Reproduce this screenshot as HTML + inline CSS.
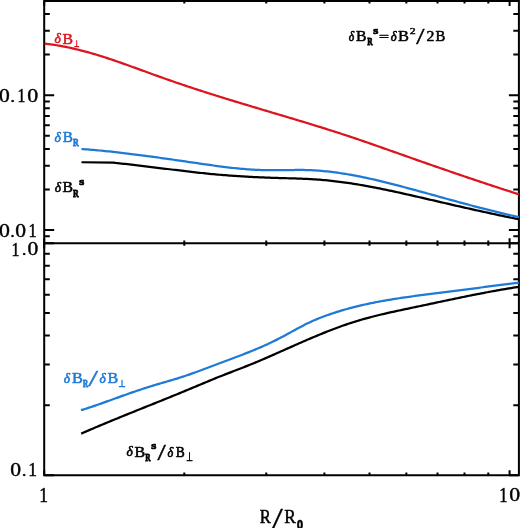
<!DOCTYPE html>
<html><head><meta charset="utf-8"><style>
html,body{margin:0;padding:0;background:#fff;}
body{width:520px;height:528px;overflow:hidden;}
svg{display:block;}
</style></head><body>
<svg width="520" height="528" viewBox="0 0 520 528">
<rect width="520" height="528" fill="#fff"/>
<path d="M44.2,0.9H518.9V475.2H44.2Z M44.2,243.2H518.9" fill="none" stroke="#000" stroke-width="2.0"/>
<path d="M44.2,243.20h5.6M518.9,243.20h-5.6M44.2,236.30h5.6M518.9,236.30h-5.6M44.2,230.12h10M518.9,230.12h-10M44.2,189.51h5.6M518.9,189.51h-5.6M44.2,165.75h5.6M518.9,165.75h-5.6M44.2,148.90h5.6M518.9,148.90h-5.6M44.2,135.82h5.6M518.9,135.82h-5.6M44.2,125.14h5.6M518.9,125.14h-5.6M44.2,116.10h5.6M518.9,116.10h-5.6M44.2,108.28h5.6M518.9,108.28h-5.6M44.2,101.38h5.6M518.9,101.38h-5.6M44.2,95.20h10M518.9,95.20h-10M44.2,54.59h5.6M518.9,54.59h-5.6M44.2,30.83h5.6M518.9,30.83h-5.6M44.2,13.98h5.6M518.9,13.98h-5.6M44.2,0.90h5.6M518.9,0.90h-5.6M44.2,475.20h10M518.9,475.20h-10M44.2,405.36h5.6M518.9,405.36h-5.6M44.2,364.51h5.6M518.9,364.51h-5.6M44.2,335.52h5.6M518.9,335.52h-5.6M44.2,313.04h5.6M518.9,313.04h-5.6M44.2,294.67h5.6M518.9,294.67h-5.6M44.2,279.14h5.6M518.9,279.14h-5.6M44.2,265.68h5.6M518.9,265.68h-5.6M44.2,253.82h5.6M518.9,253.82h-5.6M44.2,243.20h10M518.9,243.20h-10M44.20,0.9v5M44.20,243.2v-5M44.20,243.2v5M44.20,475.2v-5M184.30,0.9v2.6M184.30,243.2v-2.6M184.30,243.2v2.6M184.30,475.2v-2.6M266.25,0.9v2.6M266.25,243.2v-2.6M266.25,243.2v2.6M266.25,475.2v-2.6M324.40,0.9v2.6M324.40,243.2v-2.6M324.40,243.2v2.6M324.40,475.2v-2.6M369.50,0.9v2.6M369.50,243.2v-2.6M369.50,243.2v2.6M369.50,475.2v-2.6M406.35,0.9v2.6M406.35,243.2v-2.6M406.35,243.2v2.6M406.35,475.2v-2.6M437.51,0.9v2.6M437.51,243.2v-2.6M437.51,243.2v2.6M437.51,475.2v-2.6M464.50,0.9v2.6M464.50,243.2v-2.6M464.50,243.2v2.6M464.50,475.2v-2.6M488.30,0.9v2.6M488.30,243.2v-2.6M488.30,243.2v2.6M488.30,475.2v-2.6M509.60,0.9v5M509.60,243.2v-5M509.60,243.2v5M509.60,475.2v-5" fill="none" stroke="#000" stroke-width="2.0"/>
<polyline points="44.6,43.68 46.6,43.89 48.6,44.12 50.6,44.37 52.6,44.64 54.6,44.93 56.6,45.24 58.6,45.57 60.6,45.92 62.6,46.28 64.6,46.66 66.6,47.06 68.6,47.48 70.6,47.91 72.6,48.35 74.6,48.82 76.6,49.29 78.6,49.78 80.6,50.29 82.6,50.81 84.6,51.34 86.6,51.88 88.6,52.44 90.6,53.01 92.6,53.59 94.6,54.18 96.6,54.78 98.6,55.40 100.6,56.02 102.6,56.65 104.6,57.29 106.6,57.94 108.6,58.59 110.6,59.26 112.6,59.93 114.6,60.61 116.6,61.29 118.6,61.98 120.6,62.68 122.6,63.38 124.6,64.08 126.6,64.79 128.6,65.51 130.6,66.22 132.6,66.94 134.6,67.67 136.6,68.39 138.6,69.12 140.6,69.84 142.6,70.57 144.6,71.30 146.6,72.03 148.6,72.76 150.6,73.49 152.6,74.21 154.6,74.94 156.6,75.66 158.6,76.38 160.6,77.09 162.6,77.81 164.6,78.52 166.6,79.22 168.6,79.92 170.6,80.62 172.6,81.31 174.6,82.00 176.6,82.69 178.6,83.37 180.6,84.05 182.6,84.73 184.6,85.40 186.6,86.07 188.6,86.73 190.6,87.39 192.6,88.05 194.6,88.71 196.6,89.36 198.6,90.01 200.6,90.66 202.6,91.30 204.6,91.95 206.6,92.58 208.6,93.22 210.6,93.86 212.6,94.49 214.6,95.12 216.6,95.74 218.6,96.37 220.6,96.99 222.6,97.61 224.6,98.23 226.6,98.85 228.6,99.46 230.6,100.08 232.6,100.69 234.6,101.30 236.6,101.91 238.6,102.52 240.6,103.12 242.6,103.73 244.6,104.33 246.6,104.94 248.6,105.54 250.6,106.14 252.6,106.74 254.6,107.34 256.6,107.94 258.6,108.53 260.6,109.13 262.6,109.73 264.6,110.32 266.6,110.92 268.6,111.52 270.6,112.11 272.6,112.71 274.6,113.30 276.6,113.90 278.6,114.49 280.6,115.09 282.6,115.68 284.6,116.28 286.6,116.88 288.6,117.47 290.6,118.07 292.6,118.67 294.6,119.27 296.6,119.87 298.6,120.47 300.6,121.07 302.6,121.68 304.6,122.28 306.6,122.89 308.6,123.50 310.6,124.11 312.6,124.72 314.6,125.33 316.6,125.95 318.6,126.57 320.6,127.19 322.6,127.81 324.6,128.44 326.6,129.07 328.6,129.70 330.6,130.33 332.6,130.97 334.6,131.61 336.6,132.25 338.6,132.90 340.6,133.55 342.6,134.20 344.6,134.86 346.6,135.52 348.6,136.18 350.6,136.85 352.6,137.52 354.6,138.19 356.6,138.87 358.6,139.55 360.6,140.23 362.6,140.92 364.6,141.60 366.6,142.29 368.6,142.98 370.6,143.68 372.6,144.37 374.6,145.07 376.6,145.77 378.6,146.47 380.6,147.17 382.6,147.87 384.6,148.58 386.6,149.28 388.6,149.99 390.6,150.69 392.6,151.40 394.6,152.11 396.6,152.81 398.6,153.52 400.6,154.23 402.6,154.93 404.6,155.64 406.6,156.35 408.6,157.05 410.6,157.76 412.6,158.46 414.6,159.16 416.6,159.87 418.6,160.57 420.6,161.27 422.6,161.97 424.6,162.67 426.6,163.37 428.6,164.07 430.6,164.77 432.6,165.46 434.6,166.16 436.6,166.85 438.6,167.55 440.6,168.24 442.6,168.93 444.6,169.62 446.6,170.31 448.6,171.00 450.6,171.69 452.6,172.38 454.6,173.06 456.6,173.75 458.6,174.43 460.6,175.11 462.6,175.79 464.6,176.47 466.6,177.15 468.6,177.83 470.6,178.50 472.6,179.18 474.6,179.85 476.6,180.52 478.6,181.19 480.6,181.86 482.6,182.53 484.6,183.19 486.6,183.86 488.6,184.52 490.6,185.18 492.6,185.84 494.6,186.49 496.6,187.15 498.6,187.80 500.6,188.45 502.6,189.10 504.6,189.75 506.6,190.40 508.6,191.04 510.6,191.68 512.6,192.32 514.6,192.96 516.6,193.60 518.6,194.23 518.9,194.33" fill="none" stroke="#dc1420" stroke-width="2.25" stroke-linejoin="round"/>
<polyline points="81.5,162.25 113.5,162.60 115.5,162.94 117.5,163.14 119.5,163.34 121.5,163.55 123.5,163.76 125.5,163.97 127.5,164.19 129.5,164.41 131.5,164.64 133.5,164.87 135.5,165.10 137.5,165.33 139.5,165.57 141.5,165.80 143.5,166.04 145.5,166.29 147.5,166.53 149.5,166.77 151.5,167.02 153.5,167.26 155.5,167.51 157.5,167.76 159.5,168.01 161.5,168.26 163.5,168.51 165.5,168.76 167.5,169.00 169.5,169.25 171.5,169.50 173.5,169.75 175.5,169.99 177.5,170.24 179.5,170.48 181.5,170.72 183.5,170.96 185.5,171.20 187.5,171.43 189.5,171.67 191.5,171.90 193.5,172.12 195.5,172.35 197.5,172.57 199.5,172.79 201.5,173.00 203.5,173.21 205.5,173.42 207.5,173.62 209.5,173.82 211.5,174.02 213.5,174.21 215.5,174.39 217.5,174.57 219.5,174.75 221.5,174.92 223.5,175.08 225.5,175.24 227.5,175.40 229.5,175.55 231.5,175.70 233.5,175.84 235.5,175.98 237.5,176.11 239.5,176.24 241.5,176.36 243.5,176.48 245.5,176.60 247.5,176.71 249.5,176.82 251.5,176.93 253.5,177.03 255.5,177.13 257.5,177.22 259.5,177.31 261.5,177.40 263.5,177.48 265.5,177.56 267.5,177.64 269.5,177.71 271.5,177.78 273.5,177.84 275.5,177.91 277.5,177.97 279.5,178.03 281.5,178.08 283.5,178.14 285.5,178.19 287.5,178.25 289.5,178.30 291.5,178.36 293.5,178.42 295.5,178.48 297.5,178.55 299.5,178.62 301.5,178.70 303.5,178.78 305.5,178.86 307.5,178.96 309.5,179.06 311.5,179.17 313.5,179.28 315.5,179.41 317.5,179.55 319.5,179.69 321.5,179.85 323.5,180.02 325.5,180.20 327.5,180.40 329.5,180.60 331.5,180.81 333.5,181.03 335.5,181.26 337.5,181.51 339.5,181.76 341.5,182.02 343.5,182.29 345.5,182.57 347.5,182.86 349.5,183.15 351.5,183.46 353.5,183.77 355.5,184.09 357.5,184.42 359.5,184.76 361.5,185.10 363.5,185.45 365.5,185.81 367.5,186.17 369.5,186.54 371.5,186.91 373.5,187.30 375.5,187.68 377.5,188.08 379.5,188.47 381.5,188.88 383.5,189.29 385.5,189.70 387.5,190.12 389.5,190.54 391.5,190.96 393.5,191.39 395.5,191.83 397.5,192.26 399.5,192.70 401.5,193.14 403.5,193.59 405.5,194.04 407.5,194.49 409.5,194.94 411.5,195.39 413.5,195.85 415.5,196.31 417.5,196.77 419.5,197.23 421.5,197.69 423.5,198.15 425.5,198.61 427.5,199.07 429.5,199.54 431.5,200.00 433.5,200.46 435.5,200.92 437.5,201.39 439.5,201.85 441.5,202.31 443.5,202.77 445.5,203.23 447.5,203.69 449.5,204.15 451.5,204.61 453.5,205.07 455.5,205.53 457.5,205.99 459.5,206.45 461.5,206.90 463.5,207.36 465.5,207.81 467.5,208.26 469.5,208.71 471.5,209.16 473.5,209.61 475.5,210.06 477.5,210.50 479.5,210.95 481.5,211.39 483.5,211.83 485.5,212.27 487.5,212.70 489.5,213.14 491.5,213.57 493.5,214.00 495.5,214.43 497.5,214.86 499.5,215.28 501.5,215.70 503.5,216.12 505.5,216.54 507.5,216.95 509.5,217.36 511.5,217.77 513.5,218.17 515.5,218.58 517.5,218.97 518.9,219.25" fill="none" stroke="#000" stroke-width="2.25" stroke-linejoin="round"/>
<polyline points="81.5,149.02 83.5,149.16 85.5,149.31 87.5,149.47 89.5,149.63 91.5,149.79 93.5,149.96 95.5,150.14 97.5,150.32 99.5,150.50 101.5,150.69 103.5,150.88 105.5,151.08 107.5,151.29 109.5,151.49 111.5,151.70 113.5,151.92 115.5,152.14 117.5,152.36 119.5,152.59 121.5,152.82 123.5,153.05 125.5,153.29 127.5,153.53 129.5,153.78 131.5,154.02 133.5,154.27 135.5,154.53 137.5,154.78 139.5,155.04 141.5,155.30 143.5,155.57 145.5,155.83 147.5,156.10 149.5,156.37 151.5,156.64 153.5,156.92 155.5,157.19 157.5,157.47 159.5,157.75 161.5,158.03 163.5,158.31 165.5,158.60 167.5,158.88 169.5,159.17 171.5,159.46 173.5,159.74 175.5,160.03 177.5,160.32 179.5,160.61 181.5,160.90 183.5,161.19 185.5,161.48 187.5,161.77 189.5,162.07 191.5,162.36 193.5,162.65 195.5,162.94 197.5,163.23 199.5,163.52 201.5,163.81 203.5,164.09 205.5,164.38 207.5,164.67 209.5,164.95 211.5,165.23 213.5,165.51 215.5,165.78 217.5,166.05 219.5,166.31 221.5,166.57 223.5,166.83 225.5,167.07 227.5,167.32 229.5,167.55 231.5,167.78 233.5,168.00 235.5,168.21 237.5,168.42 239.5,168.61 241.5,168.80 243.5,168.98 245.5,169.14 247.5,169.30 249.5,169.44 251.5,169.58 253.5,169.70 255.5,169.81 257.5,169.90 259.5,169.98 261.5,170.05 263.5,170.11 265.5,170.15 267.5,170.18 269.5,170.21 271.5,170.22 273.5,170.22 275.5,170.22 277.5,170.21 279.5,170.20 281.5,170.18 283.5,170.15 285.5,170.13 287.5,170.10 289.5,170.07 291.5,170.04 293.5,170.01 295.5,169.99 297.5,169.98 299.5,169.97 301.5,169.98 303.5,169.99 305.5,170.03 307.5,170.08 309.5,170.14 311.5,170.23 313.5,170.33 315.5,170.45 317.5,170.58 319.5,170.73 321.5,170.89 323.5,171.07 325.5,171.26 327.5,171.46 329.5,171.68 331.5,171.92 333.5,172.17 335.5,172.43 337.5,172.70 339.5,172.99 341.5,173.28 343.5,173.59 345.5,173.91 347.5,174.25 349.5,174.59 351.5,174.95 353.5,175.31 355.5,175.69 357.5,176.07 359.5,176.47 361.5,176.87 363.5,177.28 365.5,177.70 367.5,178.13 369.5,178.57 371.5,179.02 373.5,179.47 375.5,179.93 377.5,180.40 379.5,180.87 381.5,181.35 383.5,181.84 385.5,182.33 387.5,182.83 389.5,183.33 391.5,183.84 393.5,184.35 395.5,184.87 397.5,185.39 399.5,185.91 401.5,186.44 403.5,186.97 405.5,187.51 407.5,188.04 409.5,188.58 411.5,189.12 413.5,189.66 415.5,190.20 417.5,190.75 419.5,191.30 421.5,191.84 423.5,192.39 425.5,192.94 427.5,193.49 429.5,194.04 431.5,194.59 433.5,195.15 435.5,195.70 437.5,196.25 439.5,196.80 441.5,197.35 443.5,197.91 445.5,198.46 447.5,199.01 449.5,199.56 451.5,200.11 453.5,200.66 455.5,201.20 457.5,201.75 459.5,202.29 461.5,202.84 463.5,203.38 465.5,203.92 467.5,204.45 469.5,204.99 471.5,205.52 473.5,206.05 475.5,206.58 477.5,207.11 479.5,207.63 481.5,208.15 483.5,208.67 485.5,209.18 487.5,209.69 489.5,210.20 491.5,210.70 493.5,211.20 495.5,211.70 497.5,212.19 499.5,212.68 501.5,213.17 503.5,213.64 505.5,214.12 507.5,214.59 509.5,215.06 511.5,215.52 513.5,215.97 515.5,216.42 517.5,216.87 518.9,217.17" fill="none" stroke="#1f7ad6" stroke-width="2.25" stroke-linejoin="round"/>
<polyline points="81.2,433.63 83.2,432.76 85.2,431.88 87.2,431.02 89.2,430.15 91.2,429.29 93.2,428.44 95.2,427.58 97.2,426.73 99.2,425.89 101.2,425.05 103.2,424.21 105.2,423.37 107.2,422.54 109.2,421.71 111.2,420.89 113.2,420.06 115.2,419.24 117.2,418.42 119.2,417.60 121.2,416.79 123.2,415.97 125.2,415.16 127.2,414.35 129.2,413.54 131.2,412.73 133.2,411.93 135.2,411.12 137.2,410.32 139.2,409.51 141.2,408.71 143.2,407.91 145.2,407.10 147.2,406.30 149.2,405.50 151.2,404.69 153.2,403.89 155.2,403.09 157.2,402.28 159.2,401.48 161.2,400.67 163.2,399.87 165.2,399.06 167.2,398.25 169.2,397.44 171.2,396.63 173.2,395.81 175.2,395.00 177.2,394.18 179.2,393.36 181.2,392.54 183.2,391.71 185.2,390.89 187.2,390.06 189.2,389.22 191.2,388.39 193.2,387.55 195.2,386.71 197.2,385.87 199.2,385.03 201.2,384.19 203.2,383.35 205.2,382.51 207.2,381.68 209.2,380.85 211.2,380.02 213.2,379.20 215.2,378.38 217.2,377.57 219.2,376.77 221.2,375.97 223.2,375.18 225.2,374.40 227.2,373.62 229.2,372.85 231.2,372.08 233.2,371.31 235.2,370.54 237.2,369.77 239.2,369.00 241.2,368.22 243.2,367.44 245.2,366.66 247.2,365.87 249.2,365.07 251.2,364.26 253.2,363.44 255.2,362.61 257.2,361.78 259.2,360.93 261.2,360.08 263.2,359.22 265.2,358.36 267.2,357.49 269.2,356.62 271.2,355.74 273.2,354.86 275.2,353.98 277.2,353.09 279.2,352.20 281.2,351.31 283.2,350.42 285.2,349.52 287.2,348.63 289.2,347.74 291.2,346.85 293.2,345.96 295.2,345.07 297.2,344.19 299.2,343.31 301.2,342.43 303.2,341.56 305.2,340.69 307.2,339.83 309.2,338.97 311.2,338.12 313.2,337.27 315.2,336.43 317.2,335.59 319.2,334.77 321.2,333.95 323.2,333.14 325.2,332.34 327.2,331.54 329.2,330.76 331.2,329.98 333.2,329.22 335.2,328.46 337.2,327.72 339.2,326.98 341.2,326.26 343.2,325.55 345.2,324.86 347.2,324.17 349.2,323.50 351.2,322.84 353.2,322.20 355.2,321.57 357.2,320.95 359.2,320.35 361.2,319.77 363.2,319.19 365.2,318.63 367.2,318.08 369.2,317.54 371.2,317.01 373.2,316.50 375.2,315.99 377.2,315.49 379.2,315.00 381.2,314.52 383.2,314.05 385.2,313.58 387.2,313.12 389.2,312.67 391.2,312.22 393.2,311.78 395.2,311.34 397.2,310.91 399.2,310.48 401.2,310.05 403.2,309.63 405.2,309.20 407.2,308.78 409.2,308.36 411.2,307.94 413.2,307.52 415.2,307.10 417.2,306.68 419.2,306.26 421.2,305.84 423.2,305.41 425.2,304.99 427.2,304.56 429.2,304.14 431.2,303.71 433.2,303.29 435.2,302.86 437.2,302.44 439.2,302.01 441.2,301.59 443.2,301.16 445.2,300.74 447.2,300.32 449.2,299.90 451.2,299.48 453.2,299.06 455.2,298.64 457.2,298.23 459.2,297.81 461.2,297.40 463.2,296.99 465.2,296.58 467.2,296.17 469.2,295.77 471.2,295.37 473.2,294.97 475.2,294.57 477.2,294.18 479.2,293.79 481.2,293.40 483.2,293.02 485.2,292.63 487.2,292.26 489.2,291.88 491.2,291.51 493.2,291.15 495.2,290.78 497.2,290.42 499.2,290.07 501.2,289.72 503.2,289.37 505.2,289.03 507.2,288.70 509.2,288.37 511.2,288.04 513.2,287.72 515.2,287.40 517.2,287.09 518.9,286.83" fill="none" stroke="#000" stroke-width="2.25" stroke-linejoin="round"/>
<polyline points="81.0,410.19 83.0,409.58 85.0,408.96 87.0,408.32 89.0,407.67 91.0,407.01 93.0,406.34 95.0,405.66 97.0,404.97 99.0,404.27 101.0,403.57 103.0,402.86 105.0,402.15 107.0,401.43 109.0,400.71 111.0,399.99 113.0,399.27 115.0,398.55 117.0,397.82 119.0,397.10 121.0,396.38 123.0,395.66 125.0,394.95 127.0,394.24 129.0,393.54 131.0,392.84 133.0,392.15 135.0,391.47 137.0,390.79 139.0,390.12 141.0,389.46 143.0,388.80 145.0,388.15 147.0,387.51 149.0,386.87 151.0,386.25 153.0,385.63 155.0,385.02 157.0,384.42 159.0,383.83 161.0,383.24 163.0,382.67 165.0,382.09 167.0,381.52 169.0,380.95 171.0,380.37 173.0,379.78 175.0,379.18 177.0,378.56 179.0,377.93 181.0,377.29 183.0,376.63 185.0,375.96 187.0,375.28 189.0,374.59 191.0,373.89 193.0,373.18 195.0,372.46 197.0,371.73 199.0,371.00 201.0,370.26 203.0,369.52 205.0,368.77 207.0,368.02 209.0,367.27 211.0,366.51 213.0,365.76 215.0,365.00 217.0,364.24 219.0,363.49 221.0,362.74 223.0,361.99 225.0,361.24 227.0,360.50 229.0,359.75 231.0,359.00 233.0,358.25 235.0,357.50 237.0,356.74 239.0,355.98 241.0,355.22 243.0,354.45 245.0,353.67 247.0,352.88 249.0,352.09 251.0,351.29 253.0,350.47 255.0,349.65 257.0,348.81 259.0,347.96 261.0,347.10 263.0,346.22 265.0,345.33 267.0,344.42 269.0,343.50 271.0,342.56 273.0,341.60 275.0,340.62 277.0,339.62 279.0,338.60 281.0,337.56 283.0,336.50 285.0,335.42 287.0,334.33 289.0,333.23 291.0,332.13 293.0,331.02 295.0,329.92 297.0,328.83 299.0,327.74 301.0,326.68 303.0,325.63 305.0,324.60 307.0,323.60 309.0,322.64 311.0,321.70 313.0,320.80 315.0,319.94 317.0,319.10 319.0,318.29 321.0,317.51 323.0,316.75 325.0,316.01 327.0,315.29 329.0,314.58 331.0,313.90 333.0,313.23 335.0,312.57 337.0,311.93 339.0,311.31 341.0,310.70 343.0,310.11 345.0,309.53 347.0,308.96 349.0,308.41 351.0,307.88 353.0,307.36 355.0,306.85 357.0,306.35 359.0,305.86 361.0,305.39 363.0,304.93 365.0,304.48 367.0,304.04 369.0,303.61 371.0,303.20 373.0,302.79 375.0,302.39 377.0,302.00 379.0,301.62 381.0,301.25 383.0,300.89 385.0,300.54 387.0,300.19 389.0,299.85 391.0,299.52 393.0,299.19 395.0,298.88 397.0,298.56 399.0,298.26 401.0,297.96 403.0,297.66 405.0,297.37 407.0,297.08 409.0,296.80 411.0,296.52 413.0,296.25 415.0,295.98 417.0,295.71 419.0,295.44 421.0,295.18 423.0,294.91 425.0,294.65 427.0,294.39 429.0,294.14 431.0,293.88 433.0,293.62 435.0,293.36 437.0,293.11 439.0,292.85 441.0,292.59 443.0,292.34 445.0,292.08 447.0,291.83 449.0,291.57 451.0,291.32 453.0,291.06 455.0,290.81 457.0,290.55 459.0,290.30 461.0,290.04 463.0,289.79 465.0,289.53 467.0,289.28 469.0,289.03 471.0,288.77 473.0,288.52 475.0,288.26 477.0,288.01 479.0,287.76 481.0,287.50 483.0,287.25 485.0,286.99 487.0,286.74 489.0,286.48 491.0,286.23 493.0,285.97 495.0,285.72 497.0,285.46 499.0,285.21 501.0,284.95 503.0,284.69 505.0,284.44 507.0,284.18 509.0,283.92 511.0,283.66 513.0,283.40 515.0,283.14 517.0,282.89 518.9,282.64" fill="none" stroke="#1f7ad6" stroke-width="2.25" stroke-linejoin="round"/>
<text transform="translate(-1.10,101.60) scale(1.184,1)" style="font-family:'Liberation Serif',serif;font-weight:normal;font-size:18.23px" fill="#000" stroke="#000" stroke-width="0.38" stroke-linejoin="round">0</text>
<text transform="translate(10.19,101.54) scale(1.179,1)" style="font-family:'Liberation Serif',serif;font-weight:normal;font-size:16.50px" fill="#000" stroke="#000" stroke-width="0.38" stroke-linejoin="round">.</text>
<text transform="translate(17.59,101.78) scale(0.846,1)" style="font-family:'Liberation Serif',serif;font-weight:normal;font-size:18.63px" fill="#000" stroke="#000" stroke-width="0.53" stroke-linejoin="round">1</text>
<text transform="translate(27.14,101.60) scale(1.204,1)" style="font-family:'Liberation Serif',serif;font-weight:normal;font-size:18.23px" fill="#000" stroke="#000" stroke-width="0.37" stroke-linejoin="round">0</text>
<text transform="translate(-1.11,236.90) scale(1.202,1)" style="font-family:'Liberation Serif',serif;font-weight:normal;font-size:18.15px" fill="#000" stroke="#000" stroke-width="0.37" stroke-linejoin="round">0</text>
<text transform="translate(10.23,236.84) scale(1.103,1)" style="font-family:'Liberation Serif',serif;font-weight:normal;font-size:16.50px" fill="#000" stroke="#000" stroke-width="0.41" stroke-linejoin="round">.</text>
<text transform="translate(15.20,236.90) scale(1.189,1)" style="font-family:'Liberation Serif',serif;font-weight:normal;font-size:18.15px" fill="#000" stroke="#000" stroke-width="0.38" stroke-linejoin="round">0</text>
<text transform="translate(28.39,237.08) scale(0.880,1)" style="font-family:'Liberation Serif',serif;font-weight:normal;font-size:18.56px" fill="#000" stroke="#000" stroke-width="0.51" stroke-linejoin="round">1</text>
<text transform="translate(11.51,255.58) scale(0.838,1)" style="font-family:'Liberation Serif',serif;font-weight:normal;font-size:19.16px" fill="#000" stroke="#000" stroke-width="0.54" stroke-linejoin="round">1</text>
<text transform="translate(21.67,255.34) scale(1.154,1)" style="font-family:'Liberation Serif',serif;font-weight:normal;font-size:16.50px" fill="#000" stroke="#000" stroke-width="0.39" stroke-linejoin="round">.</text>
<text transform="translate(27.50,255.39) scale(1.152,1)" style="font-family:'Liberation Serif',serif;font-weight:normal;font-size:18.75px" fill="#000" stroke="#000" stroke-width="0.39" stroke-linejoin="round">0</text>
<text transform="translate(10.20,475.89) scale(1.161,1)" style="font-family:'Liberation Serif',serif;font-weight:normal;font-size:18.60px" fill="#000" stroke="#000" stroke-width="0.39" stroke-linejoin="round">0</text>
<text transform="translate(21.67,475.84) scale(1.154,1)" style="font-family:'Liberation Serif',serif;font-weight:normal;font-size:16.50px" fill="#000" stroke="#000" stroke-width="0.39" stroke-linejoin="round">.</text>
<text transform="translate(28.29,476.07) scale(0.919,1)" style="font-family:'Liberation Serif',serif;font-weight:normal;font-size:19.01px" fill="#000" stroke="#000" stroke-width="0.49" stroke-linejoin="round">1</text>
<text transform="translate(39.29,501.67) scale(0.870,1)" style="font-family:'Liberation Serif',serif;font-weight:normal;font-size:20.07px" fill="#000" stroke="#000" stroke-width="0.52" stroke-linejoin="round">1</text>
<text transform="translate(499.16,501.67) scale(0.828,1)" style="font-family:'Liberation Serif',serif;font-weight:normal;font-size:20.07px" fill="#000" stroke="#000" stroke-width="0.54" stroke-linejoin="round">1</text>
<text transform="translate(509.29,501.48) scale(1.112,1)" style="font-family:'Liberation Serif',serif;font-weight:normal;font-size:19.64px" fill="#000" stroke="#000" stroke-width="0.40" stroke-linejoin="round">0</text>
<text transform="translate(259.75,523.27) scale(0.864,1)" style="font-family:'Liberation Serif',serif;font-weight:normal;font-size:19.17px" fill="#000" stroke="#000" stroke-width="0.52" stroke-linejoin="round">R</text>
<text transform="translate(272.23,528.00) scale(1.333,1)" style="font-family:'Liberation Serif',serif;font-weight:normal;font-size:28.48px" fill="#000" stroke="#000" stroke-width="0.34" stroke-linejoin="round">/</text>
<text transform="translate(284.23,523.27) scale(0.905,1)" style="font-family:'Liberation Serif',serif;font-weight:normal;font-size:19.17px" fill="#000" stroke="#000" stroke-width="0.50" stroke-linejoin="round">R</text>
<text transform="translate(296.78,529.11) scale(0.773,1)" style="font-family:'DejaVu Sans',sans-serif;font-weight:bold;font-size:11.97px" fill="#000" stroke="#000" stroke-width="0.58" stroke-linejoin="round">0</text>
<text transform="translate(54.48,43.39) scale(0.950,1)" style="font-family:'Liberation Serif',serif;font-weight:normal;font-style:italic;font-size:14.18px" fill="#dc1420" stroke="#dc1420" stroke-width="0.58" stroke-linejoin="round">δ</text>
<text transform="translate(62.52,43.53) scale(1.081,1)" style="font-family:'Liberation Serif',serif;font-weight:normal;font-size:14.52px" fill="#dc1420" stroke="#dc1420" stroke-width="0.51" stroke-linejoin="round">B</text>
<text transform="translate(73.88,47.07) scale(0.679,1)" style="font-family:'DejaVu Sans',sans-serif;font-weight:normal;font-size:9.35px" fill="#dc1420" stroke="#dc1420" stroke-width="0.66" stroke-linejoin="round">⊥</text>
<text transform="translate(54.48,142.18) scale(0.889,1)" style="font-family:'Liberation Serif',serif;font-weight:normal;font-style:italic;font-size:15.17px" fill="#1f7ad6" stroke="#1f7ad6" stroke-width="0.62" stroke-linejoin="round">δ</text>
<text transform="translate(62.84,142.28) scale(1.014,1)" style="font-family:'Liberation Serif',serif;font-weight:normal;font-size:14.98px" fill="#1f7ad6" stroke="#1f7ad6" stroke-width="0.54" stroke-linejoin="round">B</text>
<text transform="translate(73.06,145.90) scale(0.747,1)" style="font-family:'Liberation Serif',serif;font-weight:bold;font-size:10.69px" fill="#1f7ad6" stroke="#1f7ad6" stroke-width="0.80" stroke-linejoin="round">R</text>
<text transform="translate(54.78,192.19) scale(0.980,1)" style="font-family:'Liberation Serif',serif;font-weight:normal;font-style:italic;font-size:13.76px" fill="#000" stroke="#000" stroke-width="0.56" stroke-linejoin="round">δ</text>
<text transform="translate(62.62,192.38) scale(1.104,1)" style="font-family:'Liberation Serif',serif;font-weight:normal;font-size:14.22px" fill="#000" stroke="#000" stroke-width="0.50" stroke-linejoin="round">B</text>
<text transform="translate(73.06,196.50) scale(0.736,1)" style="font-family:'Liberation Serif',serif;font-weight:bold;font-size:10.84px" fill="#000" stroke="#000" stroke-width="0.81" stroke-linejoin="round">R</text>
<text transform="translate(79.27,185.35) scale(1.208,1)" style="font-family:'Liberation Serif',serif;font-weight:bold;font-size:10.40px" fill="#000" stroke="#000" stroke-width="0.75" stroke-linejoin="round">s</text>
<text transform="translate(348.83,40.59) scale(0.842,1)" style="font-family:'Liberation Serif',serif;font-weight:normal;font-style:italic;font-size:13.90px" fill="#000" stroke="#000" stroke-width="0.65" stroke-linejoin="round">δ</text>
<text transform="translate(355.92,40.88) scale(1.070,1)" style="font-family:'Liberation Serif',serif;font-weight:normal;font-size:14.67px" fill="#000" stroke="#000" stroke-width="0.51" stroke-linejoin="round">B</text>
<text transform="translate(367.27,45.40) scale(0.698,1)" style="font-family:'Liberation Serif',serif;font-weight:bold;font-size:10.84px" fill="#000" stroke="#000" stroke-width="0.86" stroke-linejoin="round">R</text>
<text transform="translate(373.16,34.25) scale(1.237,1)" style="font-family:'Liberation Serif',serif;font-weight:bold;font-size:10.40px" fill="#000" stroke="#000" stroke-width="0.73" stroke-linejoin="round">s</text>
<text transform="translate(378.65,41.20) scale(1.387,1)" style="font-family:'Liberation Serif',serif;font-weight:normal;font-size:13.40px" fill="#000" stroke="#000" stroke-width="0.40" stroke-linejoin="round">=</text>
<text transform="translate(390.71,40.99) scale(0.906,1)" style="font-family:'Liberation Serif',serif;font-weight:normal;font-style:italic;font-size:13.90px" fill="#000" stroke="#000" stroke-width="0.61" stroke-linejoin="round">δ</text>
<text transform="translate(398.10,40.68) scale(1.140,1)" style="font-family:'Liberation Serif',serif;font-weight:normal;font-size:14.37px" fill="#000" stroke="#000" stroke-width="0.48" stroke-linejoin="round">B</text>
<text transform="translate(409.75,34.12) scale(1.276,1)" style="font-family:'Liberation Serif',serif;font-weight:normal;font-size:9.29px" fill="#000" stroke="#000" stroke-width="0.43" stroke-linejoin="round">2</text>
<text transform="translate(416.27,44.30) scale(1.303,1)" style="font-family:'Liberation Serif',serif;font-weight:normal;font-size:22.80px" fill="#000" stroke="#000" stroke-width="0.42" stroke-linejoin="round">/</text>
<text transform="translate(426.38,40.62) scale(1.159,1)" style="font-family:'Liberation Serif',serif;font-weight:normal;font-size:13.67px" fill="#000" stroke="#000" stroke-width="0.47" stroke-linejoin="round">2</text>
<text transform="translate(435.45,40.58) scale(1.067,1)" style="font-family:'Liberation Serif',serif;font-weight:normal;font-size:13.76px" fill="#000" stroke="#000" stroke-width="0.52" stroke-linejoin="round">B</text>
<text transform="translate(63.68,383.18) scale(0.880,1)" style="font-family:'Liberation Serif',serif;font-weight:normal;font-style:italic;font-size:15.31px" fill="#1f7ad6" stroke="#1f7ad6" stroke-width="0.62" stroke-linejoin="round">δ</text>
<text transform="translate(71.91,383.28) scale(1.082,1)" style="font-family:'Liberation Serif',serif;font-weight:normal;font-size:14.98px" fill="#1f7ad6" stroke="#1f7ad6" stroke-width="0.51" stroke-linejoin="round">B</text>
<text transform="translate(83.08,386.60) scale(0.706,1)" style="font-family:'Liberation Serif',serif;font-weight:bold;font-size:9.93px" fill="#1f7ad6" stroke="#1f7ad6" stroke-width="0.85" stroke-linejoin="round">R</text>
<text transform="translate(88.28,386.00) scale(1.555,1)" style="font-family:'Liberation Serif',serif;font-weight:normal;font-size:22.80px" fill="#1f7ad6" stroke="#1f7ad6" stroke-width="0.35" stroke-linejoin="round">/</text>
<text transform="translate(99.38,383.38) scale(0.897,1)" style="font-family:'Liberation Serif',serif;font-weight:normal;font-style:italic;font-size:15.03px" fill="#1f7ad6" stroke="#1f7ad6" stroke-width="0.61" stroke-linejoin="round">δ</text>
<text transform="translate(107.41,383.48) scale(1.071,1)" style="font-family:'Liberation Serif',serif;font-weight:normal;font-size:14.98px" fill="#1f7ad6" stroke="#1f7ad6" stroke-width="0.51" stroke-linejoin="round">B</text>
<text transform="translate(118.29,386.57) scale(0.858,1)" style="font-family:'DejaVu Sans',sans-serif;font-weight:normal;font-size:10.07px" fill="#1f7ad6" stroke="#1f7ad6" stroke-width="0.52" stroke-linejoin="round">⊥</text>
<text transform="translate(126.48,456.49) scale(0.941,1)" style="font-family:'Liberation Serif',serif;font-weight:normal;font-style:italic;font-size:14.33px" fill="#000" stroke="#000" stroke-width="0.58" stroke-linejoin="round">δ</text>
<text transform="translate(134.51,456.58) scale(1.071,1)" style="font-family:'Liberation Serif',serif;font-weight:normal;font-size:14.98px" fill="#000" stroke="#000" stroke-width="0.51" stroke-linejoin="round">B</text>
<text transform="translate(145.37,460.90) scale(0.737,1)" style="font-family:'Liberation Serif',serif;font-weight:bold;font-size:10.08px" fill="#000" stroke="#000" stroke-width="0.81" stroke-linejoin="round">R</text>
<text transform="translate(151.16,449.46) scale(1.374,1)" style="font-family:'Liberation Serif',serif;font-weight:bold;font-size:9.36px" fill="#000" stroke="#000" stroke-width="0.65" stroke-linejoin="round">s</text>
<text transform="translate(157.38,459.91) scale(1.338,1)" style="font-family:'Liberation Serif',serif;font-weight:normal;font-size:22.20px" fill="#000" stroke="#000" stroke-width="0.41" stroke-linejoin="round">/</text>
<text transform="translate(167.41,456.88) scale(0.855,1)" style="font-family:'Liberation Serif',serif;font-weight:normal;font-style:italic;font-size:14.47px" fill="#000" stroke="#000" stroke-width="0.64" stroke-linejoin="round">δ</text>
<text transform="translate(175.79,456.98) scale(0.901,1)" style="font-family:'Liberation Serif',serif;font-weight:normal;font-size:14.98px" fill="#000" stroke="#000" stroke-width="0.61" stroke-linejoin="round">B</text>
<text transform="translate(186.27,460.57) scale(0.626,1)" style="font-family:'DejaVu Sans',sans-serif;font-weight:normal;font-size:12.21px" fill="#000" stroke="#000" stroke-width="0.72" stroke-linejoin="round">⊥</text>
</svg>
</body></html>
